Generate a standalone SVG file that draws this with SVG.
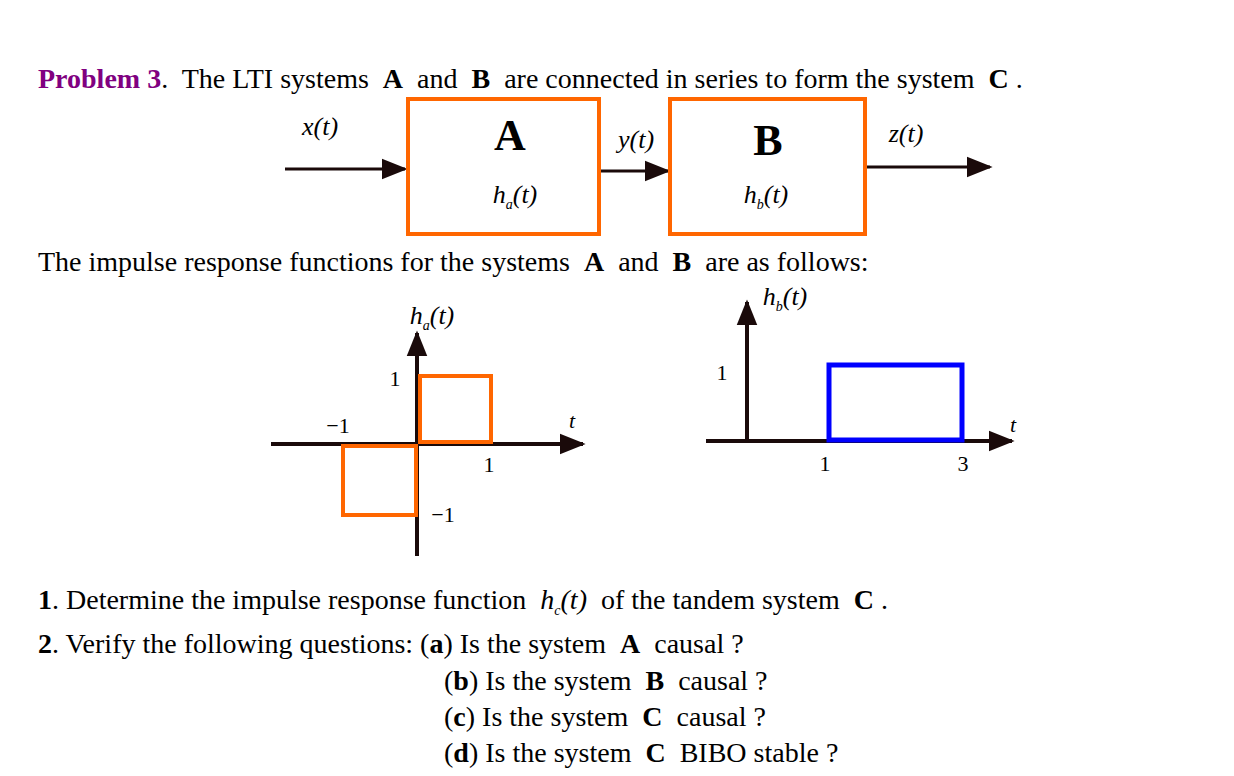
<svg xmlns="http://www.w3.org/2000/svg" width="1234" height="776" viewBox="0 0 1234 776">
<style>
text{font-family:"Liberation Serif","Times New Roman",serif;font-size:28px;fill:#000;white-space:pre}
.b{font-weight:bold}
.i{font-style:italic;font-family:"Liberation Serif","DejaVu Serif",serif}
.s{font-size:22px}
.ax{stroke:#1a0a0a;stroke-width:4;fill:none}
.or{stroke:#FF6600;stroke-width:4;fill:none}
</style>
<defs>
<marker id="ar2" viewBox="0 0 10 8" refX="9" refY="4" markerWidth="26" markerHeight="22" orient="auto" markerUnits="userSpaceOnUse"><path d="M0,0L10,4L0,8z" fill="#1a0a0a"/></marker>
</defs>
<rect width="1234" height="776" fill="#fff"/>
<text x="38" y="88"><tspan class="b" fill="#800080">Problem 3</tspan>.  The LTI systems  <tspan class="b">A</tspan>  and  <tspan class="b">B</tspan>  are connected in series to form the system  <tspan class="b">C</tspan> .</text>
<g id="connectors" stroke="#1a0a0a" stroke-width="3">
<line x1="285" y1="169" x2="405" y2="169" marker-end="url(#ar2)"/>
<line x1="600" y1="171" x2="668" y2="171" marker-end="url(#ar2)"/>
<line x1="866" y1="167" x2="990" y2="167" marker-end="url(#ar2)"/>
</g>
<g id="nodeA"><rect x="408" y="99" width="191" height="135" class="or"/>
<text x="510" y="150" class="b" text-anchor="middle" style="font-size:44px">A</text>
<text x="515" y="203" class="i" text-anchor="middle" style="font-size:26px">h<tspan style="font-size:14px" dy="6">a</tspan><tspan dy="-6">(t)</tspan></text></g>
<g id="nodeB"><rect x="670" y="99" width="195" height="135" class="or"/>
<text x="768" y="155" class="b" text-anchor="middle" style="font-size:44px">B</text>
<text x="766" y="203" class="i" text-anchor="middle" style="font-size:26px">h<tspan style="font-size:14px" dy="6">b</tspan><tspan dy="-6">(t)</tspan></text></g>
<text x="320" y="135" class="i" text-anchor="middle" style="font-size:26px">x(t)</text>
<text x="636" y="148" class="i" text-anchor="middle" style="font-size:26px">y(t)</text>
<text x="906" y="142" class="i" text-anchor="middle" style="font-size:26px">z(t)</text>
<text x="38" y="271">The impulse response functions for the systems  <tspan class="b">A</tspan>  and  <tspan class="b">B</tspan>  are as follows:</text>
<g id="plotA">
<line x1="271" y1="444" x2="583" y2="444" class="ax" marker-end="url(#ar2)"/>
<line x1="417" y1="556" x2="417" y2="333" class="ax" marker-end="url(#ar2)"/>
<rect x="420" y="376" width="71" height="66" class="or"/>
<rect x="343" y="446" width="73" height="69" class="or"/>
<text x="432" y="324" class="i" text-anchor="middle" style="font-size:26px">h<tspan style="font-size:14px" dy="6">a</tspan><tspan dy="-6">(t)</tspan></text>
<text x="395" y="386" class="s" text-anchor="middle">1</text>
<text x="338" y="433" class="s" text-anchor="middle">−1</text>
<text x="572" y="428" class="s i" text-anchor="middle">t</text>
<text x="489" y="472" class="s" text-anchor="middle">1</text>
<text x="443" y="522" class="s" text-anchor="middle">−1</text>
</g>
<g id="plotB">
<line x1="706" y1="441" x2="1012" y2="441" class="ax" marker-end="url(#ar2)"/>
<line x1="747" y1="441" x2="747" y2="302" class="ax" marker-end="url(#ar2)"/>
<rect x="829" y="365" width="133" height="75" fill="none" stroke="#0000FF" stroke-width="5"/>
<text x="785" y="305" class="i" text-anchor="middle" style="font-size:26px">h<tspan style="font-size:14px" dy="6">b</tspan><tspan dy="-6">(t)</tspan></text>
<text x="722" y="380" class="s" text-anchor="middle">1</text>
<text x="1013" y="432" class="s i" text-anchor="middle">t</text>
<text x="825" y="471" class="s" text-anchor="middle">1</text>
<text x="963" y="471" class="s" text-anchor="middle">3</text>
</g>
<text x="38" y="609"><tspan class="b">1</tspan>. Determine the impulse response function  <tspan class="i">h<tspan style="font-size:14px" dy="6">c</tspan><tspan dy="-6">(t)</tspan></tspan>  of the tandem system  <tspan class="b">C</tspan> .</text>
<text x="38" y="653"><tspan class="b">2</tspan>. Verify the following questions: (<tspan class="b">a</tspan>) Is the system  <tspan class="b">A</tspan>  causal ?</text>
<text x="444" y="690">(<tspan class="b">b</tspan>) Is the system  <tspan class="b">B</tspan>  causal ?</text>
<text x="444" y="726">(<tspan class="b">c</tspan>) Is the system  <tspan class="b">C</tspan>  causal ?</text>
<text x="444" y="762">(<tspan class="b">d</tspan>) Is the system  <tspan class="b">C</tspan>  BIBO stable ?</text>
</svg>
